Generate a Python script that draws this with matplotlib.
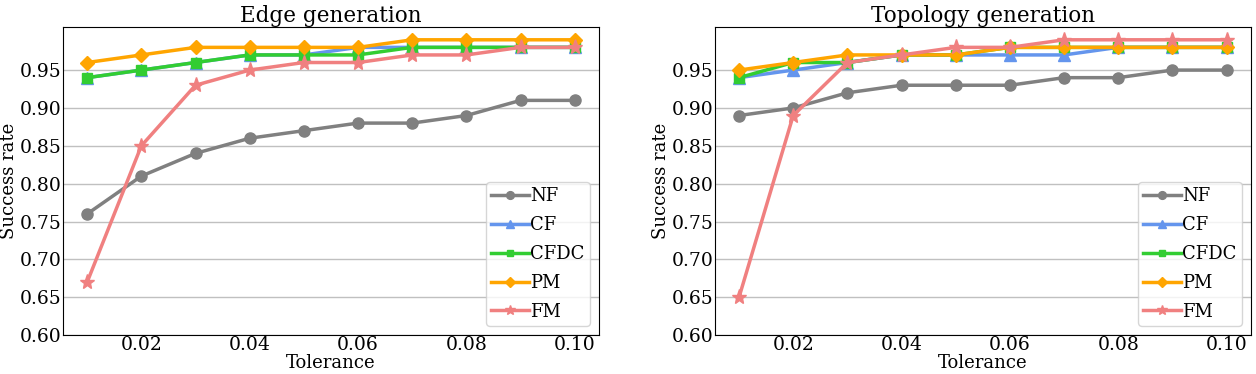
import matplotlib
matplotlib.use("Agg")
import matplotlib.pyplot as plt

# tolerance values on the x axis
tolerance = [0.01, 0.02, 0.03, 0.04, 0.05, 0.06, 0.07, 0.08, 0.09, 0.10]

# Edge generation success rates
edge_nf = [0.76, 0.81, 0.84, 0.86, 0.87, 0.88, 0.88, 0.89, 0.91, 0.91]
edge_cf = [0.94, 0.95, 0.96, 0.97, 0.97, 0.98, 0.98, 0.98, 0.98, 0.98]
edge_cfdc = [0.94, 0.95, 0.96, 0.97, 0.97, 0.97, 0.98, 0.98, 0.98, 0.98]
edge_pm = [0.96, 0.97, 0.98, 0.98, 0.98, 0.98, 0.99, 0.99, 0.99, 0.99]
edge_fm = [0.67, 0.85, 0.93, 0.95, 0.96, 0.96, 0.97, 0.97, 0.98, 0.98]

# Topology generation success rates
topo_nf = [0.89, 0.90, 0.92, 0.93, 0.93, 0.93, 0.94, 0.94, 0.95, 0.95]
topo_cf = [0.94, 0.95, 0.96, 0.97, 0.97, 0.97, 0.97, 0.98, 0.98, 0.98]
topo_cfdc = [0.94, 0.96, 0.96, 0.97, 0.97, 0.98, 0.98, 0.98, 0.98, 0.98]
topo_pm = [0.95, 0.96, 0.97, 0.97, 0.97, 0.98, 0.98, 0.98, 0.98, 0.98]
topo_fm = [0.65, 0.89, 0.96, 0.97, 0.98, 0.98, 0.99, 0.99, 0.99, 0.99]

methods = ["NF", "CF", "CFDC", "PM", "FM"]
colors = ["gray", "cornflowerblue", "limegreen", "orange", "lightcoral"]
markers = ["o", "^", "s", "D", "*"]
msizes = [8, 9, 7, 7, 11]

plt.rcParams["font.family"] = "DejaVu Serif"

fig = plt.figure(figsize=(12.56, 3.74), dpi=100)
# axes placed by hand to match the reference layout
ax1 = fig.add_axes([0.050, 0.104, 0.427, 0.824])
ax2 = fig.add_axes([0.569, 0.104, 0.427, 0.824])

panels = [
    (ax1, "Edge generation", [edge_nf, edge_cf, edge_cfdc, edge_pm, edge_fm]),
    (ax2, "Topology generation", [topo_nf, topo_cf, topo_cfdc, topo_pm, topo_fm]),
]

for ax, title, series in panels:
    for name, vals, c, m, ms in zip(methods, series, colors, markers, msizes):
        ax.plot(tolerance, vals, color=c, marker=m, markersize=ms,
                linewidth=2.5, label=name)
    ax.set_title(title, fontsize=15.5, pad=3)
    ax.set_xlabel("Tolerance", fontsize=13, labelpad=0)
    ax.set_ylabel("Success rate", fontsize=13, labelpad=1)
    ax.set_ylim(0.6, 1.007)
    ax.set_yticks([0.60, 0.65, 0.70, 0.75, 0.80, 0.85, 0.90, 0.95])
    ax.set_xticks([0.02, 0.04, 0.06, 0.08, 0.10])
    ax.set_xticklabels(["0.02", "0.04", "0.06", "0.08", "0.10"])
    ax.tick_params(labelsize=13.5, length=0, pad=1)
    ax.grid(axis="y", color="#c0c0c0", linewidth=1)
    ax.set_axisbelow(True)
    ax.legend(loc="lower right", fontsize=13, handlelength=2.1,
              handletextpad=0.05, borderpad=0.3, labelspacing=0.6,
              borderaxespad=0.5, markerscale=0.7)

fig.savefig("out.png", dpi=100)
